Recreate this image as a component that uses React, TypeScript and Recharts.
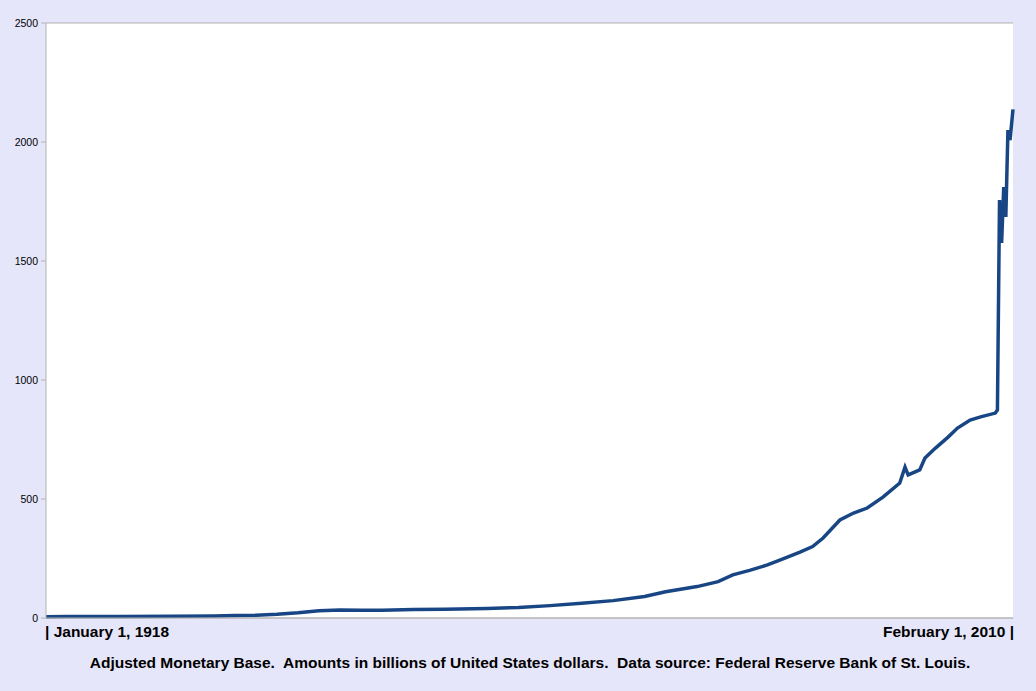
import React from "react";
import { LineChart, Line, XAxis, YAxis, CartesianGrid } from "recharts";

const years: number[] = [
  1918.0, 1920, 1925, 1930, 1934, 1936, 1938, 1940, 1942, 1944, 1946, 1948, 1950,
  1953, 1956, 1960, 1963, 1966, 1969, 1972, 1975, 1977, 1980, 1982, 1983.4, 1985,
  1986.7, 1988, 1989.8, 1991, 1992, 1993.6, 1994.9, 1996.2, 1997.7, 1999.3, 1999.8,
  2000.1, 2001.2, 2001.7, 2002.7, 2003.9, 2004.8, 2006, 2007, 2008.4, 2008.6, 2008.8,
  2009.0, 2009.2, 2009.4, 2009.6, 2009.8, 2010.083,
];
const monetaryBase: number[] = [
  5, 6, 6, 7, 8, 10, 12, 16, 22, 30, 34, 33, 33,
  36, 37, 40, 44, 52, 62, 73, 90, 110, 132, 153, 181, 200,
  223, 245, 277, 300, 336, 412, 441, 462, 508, 567, 634,
  601, 622, 672, 714, 760, 798, 832, 845, 861, 874, 1756,
  1576, 1811, 1685, 2050, 2008, 2137,
];
const yTicks: number[] = [0, 500, 1000, 1500, 2000, 2500];
const xTicks: number[] = [1918, 2010.083];
const xTickLabels: string[] = ["| January 1, 1918", "February 1, 2010 |"];
const caption =
  "Adjusted Monetary Base.  Amounts in billions of United States dollars.  Data source: Federal Reserve Bank of St. Louis.";

const data = years.map((y, i) => ({ year: y, value: monetaryBase[i] }));

const XTick = (props: any) => {
  const { x, y, index } = props;
  return (
    <text
      x={index === 0 ? x - 1 : x + 1}
      y={y + 11}
      textAnchor={index === 0 ? "start" : "end"}
      fontFamily="'Liberation Sans', Arial, sans-serif"
      fontWeight="bold"
      fontSize={15.5}
      fill="#000"
    >
      {xTickLabels[index]}
    </text>
  );
};

export default function App() {
  return (
    <div
      style={{
        position: "absolute",
        left: 0,
        top: 0,
        width: 1036,
        height: 691,
        background: "#e6e6fa",
        overflow: "hidden",
      }}
    >
      <LineChart
        width={1036}
        height={691}
        data={data}
        margin={{ top: 23, right: 23, bottom: 0, left: 0 }}
      >
        <CartesianGrid vertical={false} stroke="#b3b3b3" fill="#ffffff" />
        <XAxis
          dataKey="year"
          type="number"
          domain={[1918, 2010.083]}
          ticks={xTicks}
          tick={<XTick />}
          tickLine={false}
          axisLine={{ stroke: "#b3b3b3" }}
          height={73}
          interval={0}
        />
        <YAxis
          yAxisId="left"
          domain={[0, 2500]}
          ticks={yTicks}
          width={46}
          tickSize={5}
          tickMargin={3}
          tickLine={{ stroke: "#b3b3b3" }}
          axisLine={{ stroke: "#b3b3b3" }}
          tick={{
            fontSize: 10.5,
            fill: "#000",
            fontFamily: "'Liberation Sans', Arial, sans-serif",
          }}
        />
        <YAxis
          yAxisId="right"
          orientation="right"
          domain={[0, 2500]}
          width={0}
          tick={false}
          tickLine={false}
          axisLine={{ stroke: "#b3b3b3" }}
        />
        <Line
          yAxisId="left"
          type="linear"
          dataKey="value"
          stroke="#184684"
          strokeWidth={3.5}
          dot={false}
          isAnimationActive={false}
        />
      </LineChart>
      <div
        style={{
          position: "absolute",
          left: 0,
          width: 1060,
          top: 654,
          textAlign: "center",
          whiteSpace: "pre",
          fontFamily: "'Liberation Sans', Arial, sans-serif",
          fontWeight: "bold",
          fontSize: 15.5,
          color: "#000",
        }}
      >
        {caption}
      </div>
    </div>
  );
}
